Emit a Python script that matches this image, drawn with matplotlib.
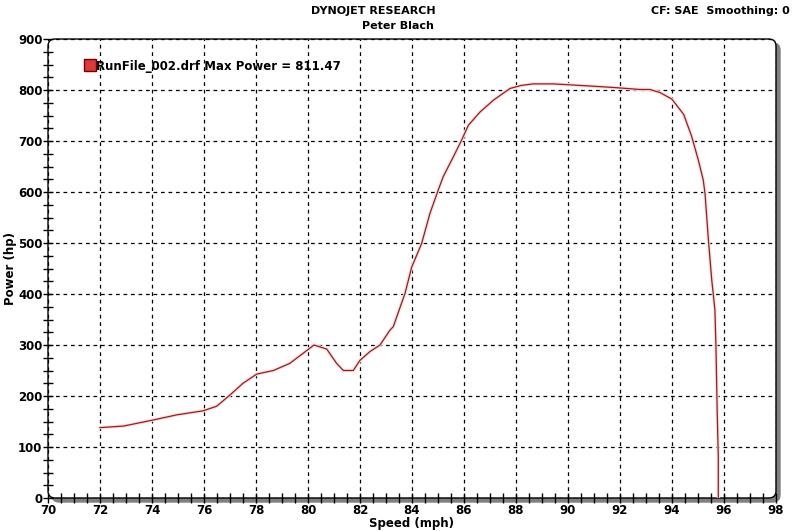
import matplotlib.pyplot as plt
from matplotlib.patches import FancyBboxPatch
from matplotlib.lines import Line2D
from matplotlib.ticker import MultipleLocator

speed = [72.0, 72.9, 74.05, 74.95, 75.97, 76.49, 77.0, 77.5, 78.03, 78.67, 79.3, 79.82,
         80.23, 80.72, 81.1, 81.36, 81.74, 82.0, 82.38, 82.77, 83.15, 83.28, 83.73, 83.99,
         84.37, 84.69, 85.01, 85.2, 85.59, 85.91, 86.17, 86.62, 87.13, 87.77, 88.2, 88.67,
         89.43, 90.46, 91.74, 92.77, 93.15, 93.54, 94.0, 94.45, 94.75, 95.0, 95.2, 95.27,
         95.4, 95.53, 95.65, 95.69, 95.74, 95.78, 95.78]
power = [138, 141, 153, 163, 171, 180, 202, 225, 243, 250, 264, 284,
         300, 292, 264, 250, 250, 270, 287, 300, 329, 336, 401, 453,
         499, 558, 604, 630, 669, 702, 731, 757, 780, 803, 809, 812,
         812, 809, 805, 801, 801, 795, 782, 752, 710, 665, 624, 597,
         506, 427, 369, 297, 166, 81, 0]

run_label = 'RunFile_002.drf Max Power = 811.47'

W, H = 799, 531
fig = plt.figure(figsize=(W / 100, H / 100), dpi=100)
fig.patch.set_facecolor('white')

L, R, B, T = 48, 776, 33, 492
ax = fig.add_axes([L / W, B / H, (R - L) / W, (T - B) / H])
ax.set_facecolor('none')
ax.set_zorder(3)

# rounded frame with grey drop shadow
off = 4
shadow = FancyBboxPatch(((L + off) / W, (B - off) / H), (R - L) / W, (T - B) / H,
                        boxstyle='round,pad=0,rounding_size=0.009',
                        mutation_aspect=W / H, transform=fig.transFigure,
                        facecolor='#808080', edgecolor='#808080', zorder=0)
frame = FancyBboxPatch((L / W, B / H), (R - L) / W, (T - B) / H,
                       boxstyle='round,pad=0,rounding_size=0.009',
                       mutation_aspect=W / H, transform=fig.transFigure,
                       facecolor='white', edgecolor='black', linewidth=1, zorder=1)
fig.add_artist(shadow)
fig.add_artist(frame)

for s in ax.spines.values():
    s.set_visible(False)

ax.plot(speed, power, color='#fbdede', linewidth=2.4, zorder=2)
ax.plot(speed, power, color='#9a1c1c', linewidth=0.9, zorder=3)

ax.set_xlim(70, 98)
ax.set_ylim(0, 900)
ax.xaxis.set_major_locator(MultipleLocator(2))
ax.xaxis.set_minor_locator(MultipleLocator(0.5))
ax.yaxis.set_major_locator(MultipleLocator(100))
ax.yaxis.set_minor_locator(MultipleLocator(25))
ax.grid(True, which='major', color='black', linestyle=(0, (3, 3)), linewidth=0.9)
ax.tick_params(which='both', direction='inout', length=7, width=1, color='black',
               labelsize=8.5, pad=0.5)
for lab in ax.get_xticklabels() + ax.get_yticklabels():
    lab.set_fontweight('bold')

ax.set_xlabel('Speed (mph)', fontsize=8.5, fontweight='bold')
ax.set_ylabel('Power (hp)', fontsize=8.5, fontweight='bold')
ax.xaxis.set_label_coords(0.5, -0.055)
ax.yaxis.set_label_coords(-0.052, 0.5)
ax.xaxis.label.set_va('center')
ax.yaxis.label.set_va('center')

handle = Line2D([], [], marker='s', linestyle='none', markersize=8,
                markerfacecolor='#e03838', markeredgecolor='#700000')
ax.legend([handle], [run_label], loc='center left', bbox_to_anchor=(0.042, 0.941),
          frameon=False, handletextpad=0.0, handlelength=1.0, borderpad=0,
          prop={'weight': 'bold', 'size': 8.5})

fig.text(373 / W, 1 - 11 / H, 'DYNOJET RESEARCH', ha='center', va='center',
         fontsize=8, fontweight='bold')
fig.text(398 / W, 1 - 26 / H, 'Peter Blach', ha='center', va='center',
         fontsize=8, fontweight='bold')
fig.text(790 / W, 1 - 11 / H, 'CF: SAE  Smoothing: 0', ha='right', va='center',
         fontsize=8, fontweight='bold')

fig.savefig('out.png', dpi=100)
